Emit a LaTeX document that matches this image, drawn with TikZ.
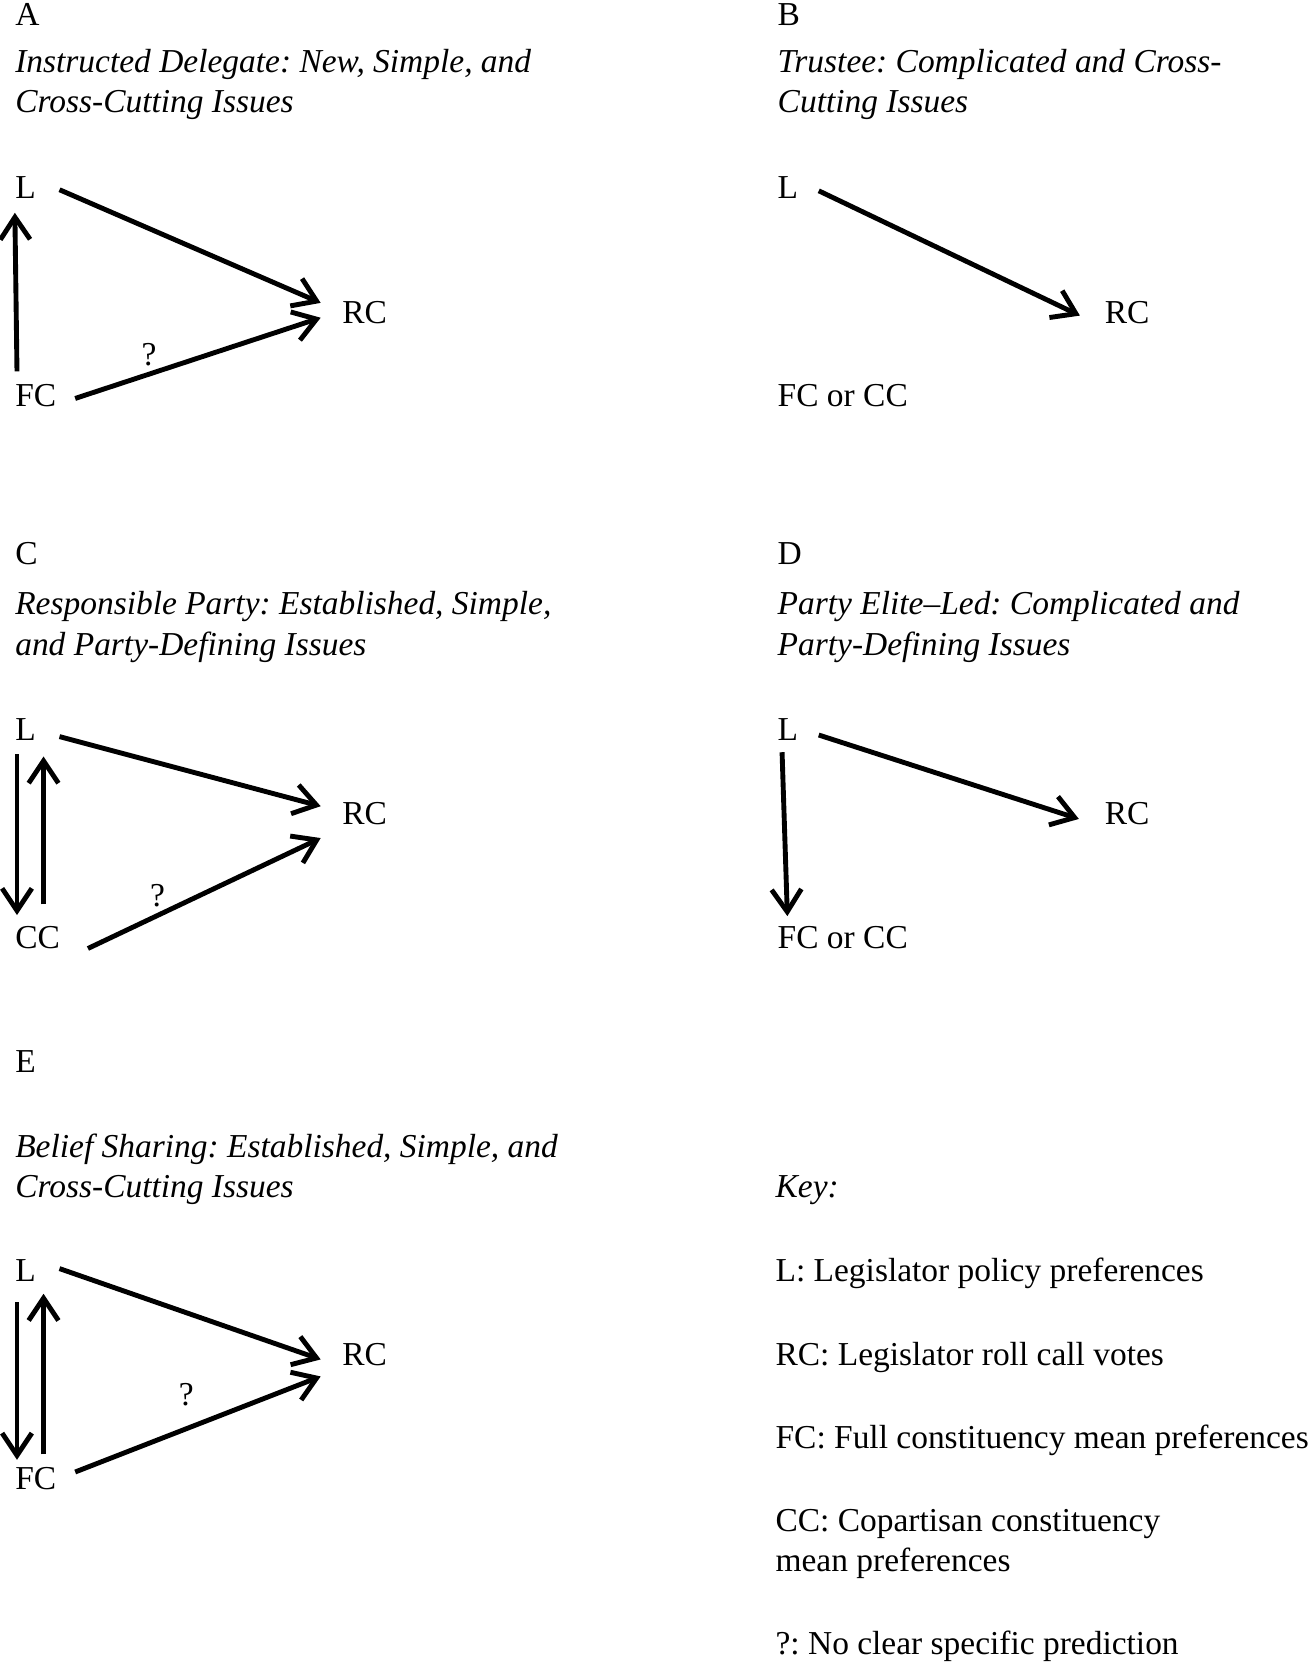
\documentclass[tikz,border=0pt]{standalone}
\usepackage{fontspec}
\setmainfont{Liberation Serif}
\usetikzlibrary{arrows.meta,calc}
\newcommand{\figfont}{\frenchspacing\fontsize{15.75}{19}\selectfont}
\tikzset{
  txt/.style={inner sep=0pt, anchor=base west, align=left, font=\figfont},
  ttl/.style={txt, font=\figfont\itshape},
  arr/.style={line width=2.3pt, -{Straight Barb[length=10.5pt,width=14pt]}},
}
\begin{document}
\begin{tikzpicture}[x=0.5pt,y=-0.5pt]
\useasboundingbox (0,0) rectangle (1232,1568);

\node[txt] (aTag) at (14,24) {A};
\node[ttl] (aTitle) at (14,106) {Instructed Delegate: New, Simple, and\\Cross-Cutting Issues};
\node[txt] (aL) at (14,187) {L};
\node[txt] (aRC) at (322,305) {RC};
\node[txt] (aFC) at (14,383) {FC};
\node[txt] (aQ) at (133,344) {?};
\draw[arr] ($(aL.east)+(22,2)$) -- ($(aRC.west)+(-20,-9.5)$);
\draw[arr] ($(aFC.east)+(17.5,2.5)$) -- ($(aRC.west)+(-20,4.5)$);
\draw[arr] ($(aFC.north west)+(2,-12)$) -- ($(aL.south west)+(0,13)$);

\node[txt] (bTag) at (732,24) {B};
\node[ttl] (bTitle) at (732,106) {Trustee: Complicated and Cross-\\Cutting Issues};
\node[txt] (bL) at (732,187) {L};
\node[txt] (bRC) at (1040,305) {RC};
\node[txt] (bFC) at (732,383) {FC or CC};
\draw[arr] ($(bL.east)+(19,3)$) -- ($(bRC.west)+(-23,2.5)$);

\node[txt] (cTag) at (14,532) {C};
\node[ttl] (cTitle) at (14,617) {Responsible Party: Established, Simple,\\and Party-Defining Issues};
\node[txt] (cL) at (14,697) {L};
\node[txt] (cRC) at (322,776) {RC};
\node[txt] (cCC) at (14,893) {CC};
\node[txt] (cQ) at (141,854) {?};
\draw[arr] ($(cL.east)+(22,7)$) -- ($(cRC.west)+(-20,-6.5)$);
\draw[arr] ($(cCC.east)+(26,10.5)$) -- ($(cRC.west)+(-20,23.5)$);
\draw[arr] ($(cL.south west)+(2,13)$) -- ($(cCC.north west)+(2,-10)$);
\draw[arr] ($(cCC.north west)+(27,-20)$) -- ($(cL.south west)+(27,15)$);

\node[txt] (dTag) at (732,532) {D};
\node[ttl] (dTitle) at (732,617) {Party Elite--Led: Complicated and\\Party-Defining Issues};
\node[txt] (dL) at (732,697) {L};
\node[txt] (dRC) at (1040,776) {RC};
\node[txt] (dFC) at (732,893) {FC or CC};
\draw[arr] ($(dL.east)+(19,5.5)$) -- ($(dRC.west)+(-24,5.5)$);
\draw[arr] ($(dL.south west)+(4.5,11)$) -- ($(dFC.north west)+(9.5,-9)$);

\node[txt] (eTag) at (14,1010) {E};
\node[ttl] (eTitle) at (14,1128) {Belief Sharing: Established, Simple, and\\Cross-Cutting Issues};
\node[txt] (eL) at (14,1207) {L};
\node[txt] (eRC) at (322,1286) {RC};
\node[txt] (eFC) at (14,1403) {FC};
\node[txt] (eQ) at (168,1324) {?};
\draw[arr] ($(eL.east)+(22,-2)$) -- ($(eRC.west)+(-20,4.5)$);
\draw[arr] ($(eFC.east)+(17.5,-6.5)$) -- ($(eRC.west)+(-20,20.5)$);
\draw[arr] ($(eL.south west)+(2,19)$) -- ($(eFC.north west)+(2,-7)$);
\draw[arr] ($(eFC.north west)+(27,-12)$) -- ($(eL.south west)+(27,11)$);

\node[ttl] (keyTitle) at (730,1128) {Key:};
\node[txt] (keyL) at (730,1207) {L: Legislator policy preferences};
\node[txt] (keyRC) at (730,1286) {RC: Legislator roll call votes};
\node[txt] (keyFC) at (730,1364) {FC: Full constituency mean preferences};
\node[txt] (keyCC) at (730,1480) {CC: Copartisan constituency\\mean preferences};
\node[txt] (keyQ) at (730,1558) {?: No clear specific prediction};
\end{tikzpicture}
\end{document}
